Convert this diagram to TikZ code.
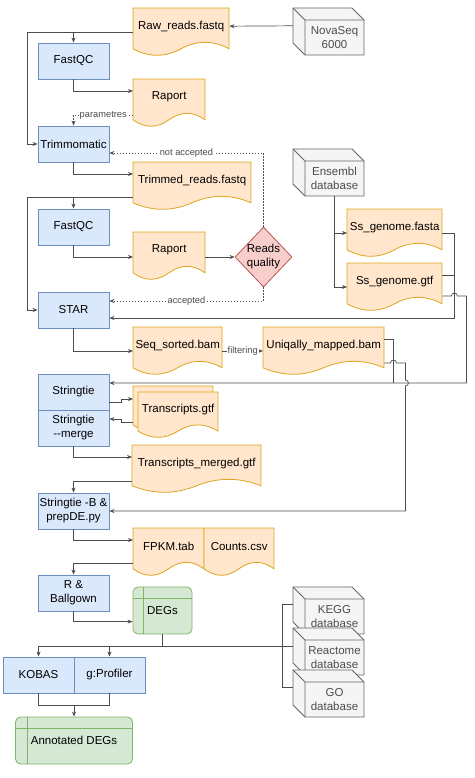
\documentclass[tikz,border=0pt]{standalone}
\usepackage{fontspec}
\setmainfont{Liberation Sans}
\usepackage{tikz}
\usetikzlibrary{shapes.geometric, arrows.meta, positioning, calc}
\definecolor{myblue}{RGB}{108,142,191}
\definecolor{hdrblue}{RGB}{218,232,252}
\definecolor{myorange}{RGB}{222,165,30}
\definecolor{hdrorange}{RGB}{255,230,204}
\definecolor{myred}{RGB}{184,84,80}
\definecolor{hdrred}{RGB}{248,206,204}
\definecolor{mygreen}{RGB}{130,179,102}
\definecolor{hdrgreen}{RGB}{213,232,212}
\definecolor{mygrey}{RGB}{102,102,102}
\definecolor{hdrgrey}{RGB}{245,245,245}
\definecolor{mydark}{RGB}{77,77,77}
\newcommand{\boxfont}{\fontsize{11.5}{14}\selectfont}
\newcommand{\lblfont}{\fontsize{9.3}{11}\selectfont}
\tikzset{
  block/.style={rectangle, draw=myblue, fill=hdrblue, minimum width=71,
    minimum height=36, inner sep=0pt, align=center, font=\boxfont, line width=0.8pt},
  docbody/.style={draw=myorange, fill=hdrorange, line width=0.8pt},
  doclabel/.style={rectangle, anchor=north west, minimum height=36,
    inner sep=0pt, align=center, font=\boxfont},
  store/.style={rectangle, draw=mygreen, fill=hdrgreen, rounded corners=5pt,
    inner sep=0pt, font=\boxfont, line width=0.8pt},
  storeline/.style={draw=mygreen, line width=0.8pt},
  decision/.style={diamond, draw=myred, fill=hdrred, minimum width=57,
    minimum height=60, inner sep=-3pt, align=center, font=\boxfont, line width=0.8pt},
  cubebody/.style={draw=mygrey, fill=hdrgrey, line width=0.8pt},
  cubelabel/.style={rectangle, minimum width=59, minimum height=35,
    inner sep=0pt, align=center, font=\boxfont, text=mydark},
  arrow/.style={-{Stealth[length=5pt, width=4pt]}, line width=0.7pt, color=mydark},
  dotarrow/.style={arrow, dash pattern=on 1.5pt off 1.5pt},
  line/.style={line width=0.7pt, color=mydark},
  edgelabel/.style={font=\lblfont, fill=white, inner sep=1pt, text=mydark}
}
% wavy document outline: x, y (top), width, height
\newcommand{\docshape}[4]{%
  \filldraw[docbody, shift={(#1,#2)}] (0,0) -- (#3,0) -- (#3,{0.85*#4})
    .. controls ({0.8333*#3},{0.67*#4}) and ({0.6667*#3},{0.67*#4}) .. ({0.5*#3},{0.85*#4})
    .. controls ({0.3333*#3},{1.03*#4}) and ({0.1667*#3},{1.03*#4}) .. (0,{0.85*#4}) -- cycle;}
% database cube: x, y (top left)
\newcommand{\dbcube}[2]{%
  \filldraw[cubebody, shift={(#1,#2)}] (0,0) -- (59,0) -- (71,12) -- (71,47) -- (12,47) -- (0,35) -- cycle;
  \draw[cubebody, fill=none, shift={(#1,#2)}] (0,0) -- (12,12) -- (71,12) (12,12) -- (12,47);}

\begin{document}
\begin{tikzpicture}[x=1pt, y=-1pt]
  \useasboundingbox (0,0) rectangle (474,778);
  % Sequencer and raw reads
  \dbcube{293}{8}
  \node[cubelabel] (nova) at (334.5,37.5) {NovaSeq\\6000};
  \docshape{133}{8}{96}{48}
  \node[doclabel, minimum width=96] (raw) at (133,8) {Raw\_reads.fastq};
  % First quality check
  \node[block] (fqc1) at (73.5,61) {FastQC};
  \docshape{133}{79}{72}{48}
  \node[doclabel, minimum width=72] (rap1) at (133,79) {Raport};
  % Trimming
  \node[block] (trim) at (73.5,144) {Trimmomatic};
  \docshape{133}{162}{118}{48}
  \node[doclabel, minimum width=118] (trimmed) at (133,162) {Trimmed\_reads.fastq};
  % Second quality check
  \node[block] (fqc2) at (73.5,227) {FastQC};
  \docshape{133}{232}{72}{48}
  \node[doclabel, minimum width=72] (rap2) at (133,232) {Raport};
  \node[decision] (rq) at (263.5,257) {Reads\\quality};
  % Reference genome
  \dbcube{293}{149}
  \node[cubelabel] (ens) at (334.5,178.5) {Ensembl\\database};
  \docshape{347}{209}{95}{48}
  \node[doclabel, minimum width=95] (fasta) at (347,209) {Ss\_genome.fasta};
  \docshape{347}{263}{95}{48}
  \node[doclabel, minimum width=95] (gtf) at (347,263) {Ss\_genome.gtf};
  % Mapping
  \node[block] (star) at (73.5,310) {STAR};
  \docshape{133}{327}{89}{48}
  \node[doclabel, minimum width=89] (seq) at (133,327) {Seq\_sorted.bam};
  \docshape{263}{327}{121}{48}
  \node[doclabel, minimum width=121] (uniq) at (263,327) {Uniqally\_mapped.bam};
  % Assembly
  \node[block] (stt) at (73.5,392) {Stringtie};
  \node[block] (sttm) at (73.5,428) {Stringtie\\-{}-merge};
  \docshape{133}{386}{80}{46}
  \docshape{138}{392}{80}{46}
  \node[doclabel, minimum width=80, minimum height=34] (trn) at (138,392) {Transcripts.gtf};
  \docshape{132}{445}{129}{48}
  \node[doclabel, minimum width=129] (merged) at (132,445) {Transcripts\_merged.gtf};
  % Counting
  \node[block] (sttb) at (73.5,511) {Stringtie -B \&\\prepDE.py};
  \docshape{133}{528}{71}{48}
  \node[doclabel, minimum width=71] (fpkm) at (133,528) {FPKM.tab};
  \docshape{204}{528}{70}{48}
  \node[doclabel, minimum width=70] (counts) at (204,528) {Counts.csv};
  % Differential expression
  \node[block] (rbg) at (73.5,593) {R \&\\Ballgown};
  \node[store, minimum width=59, minimum height=47] (degs) at (162.5,610.5) {DEGs};
  \draw[storeline] ($(degs.north west)+(11,0)$) -- ($(degs.south west)+(11,0)$);
  \draw[storeline] ($(degs.north west)+(0,12)$) -- ($(degs.north east)+(0,12)$);
  % Annotation databases
  \dbcube{293}{587}
  \node[cubelabel] (kegg) at (334.5,616.5) {KEGG\\database};
  \dbcube{293}{628}
  \node[cubelabel] (react) at (334.5,657.5) {Reactome\\database};
  \dbcube{293}{670}
  \node[cubelabel] (go) at (334.5,699.5) {GO\\database};
  % Enrichment
  \node[block] (kobas) at (38.5,675) {KOBAS};
  \node[block] (gprof) at (109.5,675) {g:Profiler};
  \node[store, minimum width=117, minimum height=47] (annot) at (74,740.5) {Annotated DEGs};
  \draw[storeline] ($(annot.north west)+(12,0)$) -- ($(annot.south west)+(12,0)$);
  \draw[storeline] ($(annot.north west)+(0,12)$) -- ($(annot.north east)+(0,12)$);

  % Connections
  \draw[arrow] ($(nova.north west)+(-12,6)$) -- (raw.east);
  \draw[arrow] ($(raw.north west)+(0,24)$) coordinate (rawout) -- ++(-106,0) |- (trim.west);
  \draw[arrow] (fqc1.north |- rawout) -- (fqc1.north);
  \draw[arrow] (fqc1.south) |- ($(rap1.north west)+(0,12)$);
  \draw[dotarrow] ($(rap1.north west)+(0,36)$) coordinate (parm)
    -- node[edgelabel] {parametres} (trim.north |- parm) -- (trim.north);
  \draw[arrow] (trim.south) |- ($(trimmed.north west)+(0,12)$);
  \draw[arrow] ($(trimmed.north west)+(0,35)$) coordinate (trimout) -- ++(-106,0) |- (star.west);
  \draw[arrow] (fqc2.north |- trimout) -- (fqc2.north);
  \draw[arrow] (fqc2.south) |- (rq.west -| rap2.west);
  \draw[arrow] (rq.west -| rap2.east) -- (rq.west);
  \draw[dotarrow] (rq.north) |- node[edgelabel, pos=0.75] {not accepted} ($(trim.east)+(0,9)$);
  \draw[dotarrow] (rq.south) |- node[edgelabel, pos=0.75] {accepted} ($(star.east)+(0,-9)$);
  % genome files
  \draw[arrow] (ens.south) |- ($(fasta.north west)+(0,24)$);
  \draw[arrow] (ens.south) |- ($(gtf.north west)+(0,24)$);
  \draw[arrow] ($(fasta.north east)+(0,24)$) -- ++(12,0) |- ($(star.east)+(0,8)$);
  \draw[line] ($(gtf.north east)+(0,12)$) -- ++(12,0);
  \coordinate (sttin) at ($(stt.east)+(0,-9)$);
  \draw[arrow] ($(gtf.north east)+(0,33)$) -- ++(9,0)
    .. controls +(0,-4) and +(0,-4) .. ++(6,0) -- ++(9,0) |- (sttin);
  % bam files
  \draw[arrow] (star.south) |- ($(seq.north west)+(0,24)$);
  \draw[arrow] ($(seq.north east)+(0,24)$) -- node[edgelabel] {filtering} ($(uniq.north west)+(0,24)$);
  \draw[line] ($(uniq.north east)+(0,12)$) -- ++(9,0) coordinate (u1) -- (u1 |- sttin);
  \draw[arrow] ($(uniq.north east)+(0,36)$) -- ++(6,0)
    .. controls +(0,-4) and +(0,-4) .. ++(6,0) -- ++(9,0) -- ++(0,17)
    .. controls +(4,0) and +(4,0) .. ++(0,6) |- (sttb.east);
  % assembly and counting
  \draw[arrow] ($(stt.east)+(0,10)$) -- ++(12,0) |- ($(trn.north west)+(-5,7)$);
  \draw[arrow] ($(trn.north west)+(-5,30)$) -- ++(-12,0) |- ($(sttm.east)+(0,-9)$);
  \draw[arrow] (sttm.south) |- ($(merged.north west)+(0,12)$);
  \draw[arrow] ($(merged.north west)+(0,36)$) -| (sttb.north);
  \draw[arrow] (sttb.south) |- ($(fpkm.north west)+(0,12)$);
  \draw[arrow] ($(fpkm.north west)+(0,35)$) -| (rbg.north);
  \draw[arrow] (rbg.south) |- ($(degs.north west)+(0,35)$);
  % enrichment
  \draw[line] (degs.south) -- ++(0,12) coordinate (dg);
  \draw[arrow] (dg) -| (kobas.north);
  \draw[arrow] (dg) -| (gprof.north);
  \draw[line] (dg) -- ($(dg -| react.west)+(-12,0)$);
  \draw[line] ($(kegg.west)+(-12,-12)$) -- ++(-10,0) |- ($(go.west)+(-12,-12)$);
  \draw[line] (kobas.south) -- ++(0,12) -| (gprof.south);
  \draw[arrow] ($(kobas.south)!0.5!(gprof.south)+(0,12)$) -- (annot.north);
\end{tikzpicture}
\end{document}
